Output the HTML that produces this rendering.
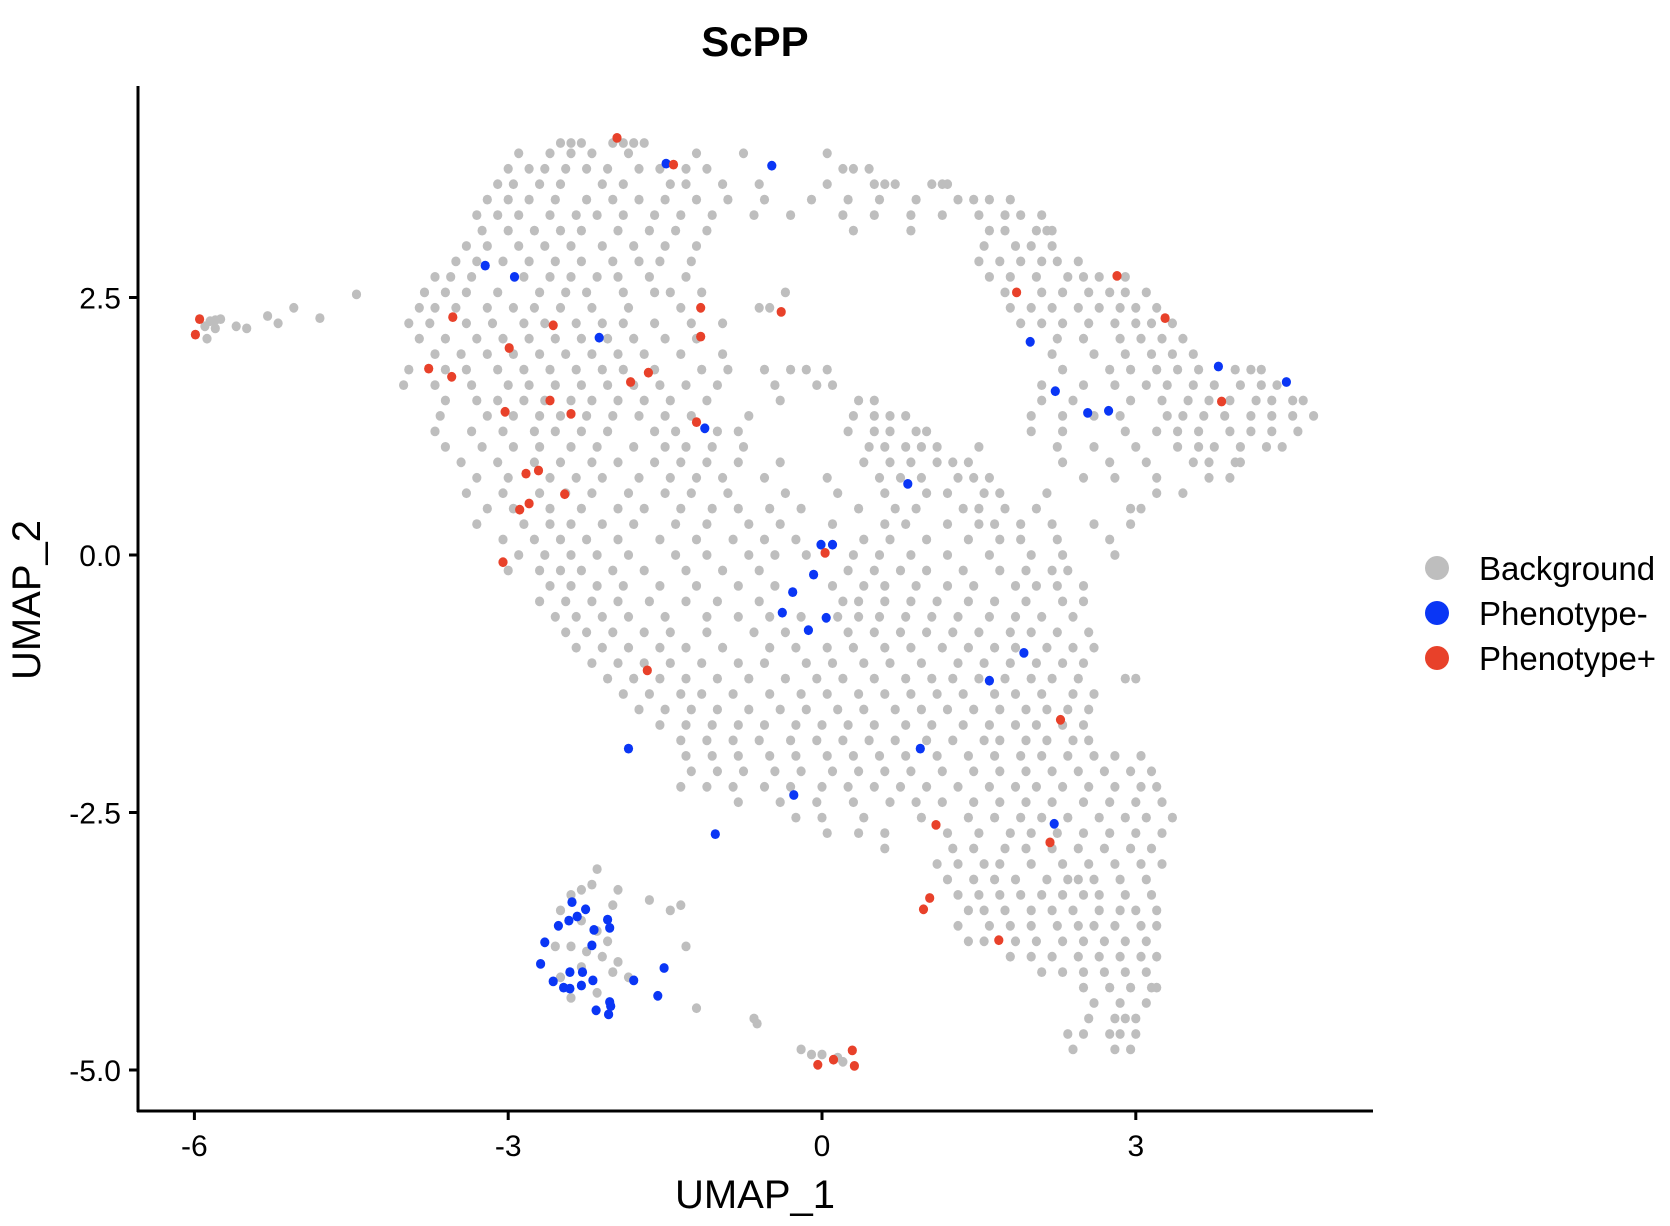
<!DOCTYPE html>
<html><head><meta charset="utf-8"><style>
html,body{margin:0;padding:0;background:#fff}
svg{display:block}
text{font-family:"Liberation Sans",Arial,sans-serif}
</style></head><body>
<svg id="chart" width="1670" height="1226" viewBox="0 0 1670 1226" xmlns="http://www.w3.org/2000/svg">
<text x="755" y="56" font-size="42" font-weight="bold" text-anchor="middle">ScPP</text>
<g id="points"></g>
<g id="axes"></g>
<text x="755" y="1208" font-size="40" text-anchor="middle">UMAP_1</text>
<text transform="translate(40,600) rotate(-90)" font-size="40" text-anchor="middle">UMAP_2</text>
<g>
<circle cx="1437" cy="568" r="12" fill="#bebebe"/>
<text x="1479" y="580" font-size="33">Background</text>
<circle cx="1437" cy="613" r="12" fill="#0a36f5"/>
<text x="1479" y="625" font-size="33">Phenotype-</text>
<circle cx="1437" cy="658" r="12" fill="#e8412a"/>
<text x="1479" y="670" font-size="33">Phenotype+</text>
</g>
</svg>
<script>
const xTicks=[-6,-3,0,3];
const yTicks=[-5,-2.5,0,2.5];
const yTickLabels=["-5.0","-2.5","0.0","2.5"];
const grayRows=[
[4.0,[-2.5,-2.4,-2.3,-2.0,-1.9,-1.8,-1.7]],
[3.9,[-2.9,-2.6,-2.4,-2.2,-1.85,-1.2,-0.75,0.05]],
[3.75,[-3.0,-2.8,-2.65,-2.45,-2.25,-2.05,-1.75,-1.55,-1.3,-1.1,0.2,0.3,0.45]],
[3.6,[-3.1,-2.95,-2.7,-2.5,-2.1,-1.9,-1.45,-1.3,-0.95,-0.6,0.05,0.5,0.6,0.7,1.05,1.15,1.2]],
[3.45,[-3.2,-3.0,-2.8,-2.55,-2.25,-2.0,-1.75,-1.5,-1.2,-0.9,-0.55,-0.1,0.25,0.55,0.9,1.3,1.45,1.6,1.8]],
[3.3,[-3.3,-3.1,-2.9,-2.6,-2.35,-2.15,-1.9,-1.6,-1.35,-1.05,-0.65,-0.3,0.2,0.5,0.85,1.15,1.5,1.75,1.9,2.1]],
[3.15,[-3.25,-3.0,-2.75,-2.5,-2.3,-1.95,-1.65,-1.4,-1.1,0.3,0.85,1.6,1.75,2.05,2.15,2.2]],
[3.0,[-3.4,-3.2,-2.9,-2.65,-2.4,-2.1,-1.8,-1.5,-1.2,1.55,1.85,2.0,2.2]],
[2.85,[-3.5,-3.3,-3.05,-2.8,-2.55,-2.3,-2.0,-1.75,-1.55,-1.25,1.5,1.7,1.9,2.1,2.25,2.45]],
[2.7,[-3.7,-3.55,-3.35,-2.85,-2.6,-2.4,-2.15,-1.95,-1.65,-1.3,1.6,1.8,2.05,2.35,2.5,2.65,2.9]],
[2.55,[-3.8,-3.6,-3.4,-3.1,-2.7,-2.45,-2.25,-1.9,-1.6,-1.45,-1.15,-0.35,1.75,2.1,2.3,2.55,2.75,2.9,3.1]],
[2.4,[-3.85,-3.7,-3.5,-3.2,-2.95,-2.75,-2.5,-2.2,-1.85,-1.35,-0.6,-0.5,1.8,2.0,2.2,2.45,2.65,2.85,3.0,3.2]],
[2.25,[-3.95,-3.75,-3.4,-3.15,-2.85,-2.65,-2.35,-2.1,-1.9,-1.6,-1.25,-0.95,1.9,2.1,2.3,2.55,2.8,3.0,3.15,3.35]],
[2.1,[-3.85,-3.6,-3.3,-3.05,-2.8,-2.55,-2.3,-2.05,-1.8,-1.5,-1.2,2.25,2.5,2.85,3.05,3.25,3.45]],
[1.95,[-3.7,-3.45,-3.2,-2.95,-2.7,-2.45,-2.2,-1.95,-1.7,-1.35,-0.95,2.2,2.6,2.9,3.15,3.35,3.55]],
[1.8,[-3.95,-3.6,-3.4,-3.1,-2.85,-2.6,-2.35,-2.1,-1.9,-1.6,-1.15,-0.9,-0.55,-0.3,-0.15,0.05,2.3,2.75,2.95,3.2,3.4,3.6,3.95,4.1,4.2]],
[1.65,[-4.0,-3.7,-3.35,-3.0,-2.8,-2.55,-2.3,-2.05,-1.8,-1.55,-1.3,-1.0,-0.45,-0.05,0.1,2.1,2.5,2.8,3.1,3.3,3.55,3.75,4.0,4.2,4.35]],
[1.5,[-3.6,-3.3,-3.1,-2.85,-2.65,-2.4,-2.2,-1.95,-1.7,-1.45,-1.1,-0.4,0.35,0.5,2.1,2.4,2.95,3.25,3.5,3.7,3.9,4.15,4.3,4.5,4.6]],
[1.35,[-3.65,-3.2,-2.95,-2.7,-2.5,-2.25,-2.0,-1.75,-1.5,-1.25,-0.7,0.3,0.5,0.65,0.8,2.0,2.3,2.6,2.85,3.3,3.45,3.65,3.85,4.1,4.3,4.5,4.7]],
[1.2,[-3.7,-3.35,-3.05,-2.75,-2.55,-2.3,-2.05,-1.6,-1.4,-1.0,-0.8,0.25,0.5,0.65,0.9,1.0,2.0,2.3,2.9,3.2,3.4,3.6,3.9,4.1,4.3,4.55]],
[1.05,[-3.6,-3.25,-2.95,-2.7,-2.4,-2.15,-1.8,-1.5,-1.3,-1.05,-0.75,0.45,0.6,0.8,0.95,1.1,1.5,2.25,2.6,3.0,3.4,3.6,3.75,4.0,4.25,4.4]],
[0.9,[-3.45,-3.1,-2.75,-2.5,-2.2,-1.95,-1.6,-1.35,-1.1,-0.8,-0.4,0.4,0.65,0.85,1.1,1.25,1.4,2.3,2.75,3.1,3.55,3.7,3.95,4.0]],
[0.75,[-3.3,-3.0,-2.6,-2.35,-2.1,-1.75,-1.45,-1.2,-0.95,-0.55,0.05,0.55,0.75,0.95,1.3,1.45,1.6,2.5,2.8,3.2,3.7,3.9]],
[0.6,[-3.4,-3.05,-2.7,-2.45,-2.2,-1.85,-1.5,-1.25,-0.9,-0.35,0.15,0.6,1.0,1.2,1.55,1.7,2.15,3.2,3.45]],
[0.45,[-3.2,-2.95,-2.6,-2.3,-1.95,-1.7,-1.35,-1.05,-0.8,-0.5,-0.2,0.35,0.7,0.9,1.35,1.5,1.75,2.05,2.95,3.05]],
[0.3,[-3.3,-2.85,-2.6,-2.4,-2.1,-1.8,-1.4,-1.1,-0.7,-0.4,0.1,0.6,0.8,1.2,1.5,1.65,1.9,2.2,2.6,2.95]],
[0.15,[-3.05,-2.75,-2.5,-2.25,-1.95,-1.55,-1.2,-0.85,-0.55,-0.25,0.4,0.65,1.0,1.4,1.7,1.9,2.25,2.75]],
[0.0,[-2.9,-2.65,-2.4,-2.15,-1.85,-1.4,-1.1,-0.7,-0.45,-0.15,0.3,0.55,0.85,1.2,1.6,2.0,2.3,2.8]],
[-0.15,[-3.0,-2.7,-2.5,-2.3,-2.0,-1.7,-1.3,-0.95,-0.6,0.25,0.5,0.75,1.0,1.35,1.7,1.95,2.2,2.35]],
[-0.3,[-2.6,-2.4,-2.15,-1.9,-1.55,-1.2,-0.8,-0.45,0.1,0.4,0.6,0.9,1.2,1.45,1.85,2.05,2.25,2.5]],
[-0.45,[-2.7,-2.45,-2.2,-1.95,-1.65,-1.3,-1.0,-0.6,0.2,0.35,0.6,0.85,1.1,1.4,1.65,1.95,2.3,2.5]],
[-0.6,[-2.55,-2.35,-2.1,-1.85,-1.5,-1.1,-0.8,-0.5,-0.2,0.15,0.35,0.55,0.8,1.05,1.3,1.6,1.85,2.1,2.4]],
[-0.75,[-2.45,-2.25,-2.0,-1.7,-1.45,-1.1,-0.65,-0.35,0.25,0.5,0.75,1.0,1.25,1.5,1.8,2.0,2.25,2.55]],
[-0.9,[-2.35,-2.1,-1.85,-1.55,-1.3,-0.95,-0.5,-0.25,0.05,0.3,0.6,0.85,1.15,1.4,1.65,1.85,2.15,2.4,2.6]],
[-1.05,[-2.2,-1.95,-1.7,-1.45,-1.15,-0.8,-0.55,-0.15,0.1,0.4,0.65,0.95,1.3,1.55,1.8,2.05,2.3,2.5]],
[-1.2,[-2.05,-1.8,-1.55,-1.3,-1.0,-0.7,-0.35,-0.05,0.2,0.5,0.8,1.05,1.25,1.5,1.75,2.0,2.2,2.45,2.9,3.0]],
[-1.35,[-1.9,-1.65,-1.35,-1.15,-0.85,-0.5,-0.2,0.05,0.35,0.6,0.85,1.1,1.35,1.65,1.85,2.1,2.4,2.6]],
[-1.5,[-1.75,-1.5,-1.25,-1.0,-0.7,-0.4,-0.15,0.15,0.4,0.7,0.95,1.2,1.45,1.7,1.95,2.15,2.35,2.55]],
[-1.65,[-1.55,-1.3,-1.05,-0.8,-0.55,-0.25,0.0,0.25,0.5,0.8,1.05,1.35,1.6,1.85,2.05,2.3,2.5]],
[-1.8,[-1.35,-1.1,-0.85,-0.6,-0.3,-0.05,0.2,0.45,0.7,1.0,1.25,1.55,1.7,1.95,2.15,2.4,2.55]],
[-1.95,[-1.3,-1.05,-0.8,-0.5,-0.25,0.05,0.3,0.55,0.8,1.1,1.4,1.65,1.9,2.1,2.35,2.6,2.8,3.05]],
[-2.1,[-1.25,-1.0,-0.75,-0.45,-0.2,0.1,0.35,0.6,0.85,1.15,1.45,1.7,1.95,2.2,2.45,2.7,2.95,3.15]],
[-2.25,[-1.35,-1.1,-0.85,-0.55,-0.3,0.0,0.25,0.5,0.75,1.0,1.3,1.6,1.85,2.05,2.3,2.55,2.8,3.05,3.2]],
[-2.4,[-0.8,-0.4,-0.05,0.3,0.65,0.9,1.15,1.45,1.7,1.95,2.2,2.5,2.75,3.0,3.25]],
[-2.55,[-0.25,0.0,0.4,0.95,1.4,1.65,1.9,2.1,2.35,2.65,2.9,3.1,3.35]],
[-2.7,[0.05,0.35,0.6,1.2,1.5,1.8,2.0,2.25,2.5,2.75,3.0,3.25]],
[-2.85,[0.6,1.25,1.45,1.75,1.95,2.2,2.45,2.7,2.95,3.15]],
[-3.0,[1.1,1.3,1.55,1.7,2.0,2.3,2.55,2.8,3.05,3.25]],
[-3.15,[1.2,1.45,1.65,1.85,2.15,2.35,2.45,2.6,2.85,3.1]],
[-3.3,[1.3,1.5,1.7,1.9,2.1,2.3,2.5,2.65,2.9,3.15]],
[-3.45,[1.4,1.55,1.75,2.0,2.2,2.4,2.65,2.85,3.0,3.2]],
[-3.6,[1.3,1.6,1.8,2.0,2.25,2.45,2.6,2.8,3.05,3.2]],
[-3.75,[1.4,1.55,1.85,2.05,2.3,2.5,2.7,2.9,3.1]],
[-3.9,[1.8,2.0,2.2,2.45,2.65,2.85,3.05,3.2]],
[-4.05,[2.1,2.3,2.5,2.7,2.9,3.1]],
[-4.2,[2.5,2.75,2.95,3.15,3.2]],
[-4.35,[2.6,2.85,3.1]],
[-4.5,[2.55,2.8,2.9,3.0]],
[-4.65,[2.35,2.5,2.75,2.85,3.0]],
[-4.8,[2.4,2.8,2.95]]
];
const grayExtraX=[-5.9,-5.85,-5.8,-5.75,-5.88,-5.8,-5.6,-5.5,-5.3,-5.2,-5.05,-4.8,-4.45,
-2.15,-2.3,-2.4,-2.2,-1.95,-1.65,-1.45,-1.35,-2.0,-2.5,-2.3,-2.15,-2.05,-2.25,-2.4,-2.55,-2.1,-1.95,-2.5,-2.3,-2.0,-1.85,-2.4,-2.15,-1.3,-1.2,
-0.65,-0.62,-0.2,-0.1,0.0,0.15,0.2];
const grayExtraY=[2.22,2.27,2.28,2.29,2.1,2.2,2.22,2.2,2.32,2.25,2.4,2.3,2.53,
-3.05,-3.25,-3.3,-3.2,-3.25,-3.35,-3.45,-3.4,-3.4,-3.45,-3.55,-3.65,-3.75,-3.85,-3.8,-3.8,-3.9,-3.95,-4.1,-4.0,-4.05,-4.1,-4.3,-4.25,-3.8,-4.4,
-4.5,-4.55,-4.8,-4.85,-4.85,-4.88,-4.92];
const plusX=[-5.95,-5.99,-3.53,-3.54,-3.76,-2.99,-3.03,-2.57,-2.60,-2.40,-2.83,-2.71,-2.80,-2.89,-2.46,-3.05,-1.96,-1.42,-1.16,-1.16,-1.20,-1.66,-1.83,-0.39,-1.67,0.03,1.86,2.82,3.28,3.82,2.28,1.09,1.03,0.97,1.69,2.18,0.29,0.11,-0.04,0.31];
const plusY=[2.29,2.14,2.31,1.73,1.81,2.01,1.39,2.23,1.50,1.37,0.79,0.82,0.50,0.44,0.59,-0.07,4.05,3.79,2.40,2.12,1.29,1.77,1.68,2.36,-1.12,0.02,2.55,2.71,2.30,1.49,-1.60,-2.62,-3.33,-3.44,-3.74,-2.79,-4.81,-4.90,-4.95,-4.96];
const minusX=[-3.22,-2.94,-2.13,-1.49,-0.48,-1.12,0.82,-0.01,0.10,-0.08,-0.28,-0.38,0.04,-0.13,1.99,2.23,2.54,2.74,3.79,4.44,1.93,1.60,0.94,-1.85,-0.27,-1.02,2.22,
-2.39,-2.26,-2.34,-2.52,-2.42,-2.05,-2.03,-2.18,-2.65,-2.20,-2.69,-2.57,-2.47,-2.41,-2.29,-2.30,-2.41,-2.19,-1.80,-1.51,-1.57,-2.03,-2.02,-2.16,-2.04];
const minusY=[2.81,2.70,2.11,3.80,3.78,1.23,0.69,0.10,0.10,-0.19,-0.36,-0.56,-0.61,-0.73,2.07,1.59,1.38,1.40,1.83,1.68,-0.95,-1.22,-1.88,-1.88,-2.33,-2.71,-2.61,
-3.37,-3.44,-3.51,-3.60,-3.55,-3.54,-3.62,-3.64,-3.76,-3.79,-3.97,-4.14,-4.20,-4.05,-4.05,-4.18,-4.21,-4.13,-4.13,-4.01,-4.28,-4.34,-4.38,-4.42,-4.46];

const X0=822, XS=104.6, Y0=555, YS=103;
const sx=v=>X0+XS*v, sy=v=>Y0-YS*v;
const NS="http://www.w3.org/2000/svg";
const pts=document.getElementById('points');
function dot(x,y,fill,name){
  const c=document.createElementNS(NS,'ellipse');
  c.setAttribute('cx',sx(x).toFixed(1));c.setAttribute('cy',sy(y).toFixed(1));
  c.setAttribute('rx','4.6');c.setAttribute('ry','4.9');c.setAttribute('fill',fill);
  
  
  pts.appendChild(c);
}
grayRows.forEach(r=>r[1].forEach(x=>dot(x,r[0],'#bebebe','background-point')));
grayExtraX.forEach((x,i)=>dot(x,grayExtraY[i],'#bebebe','background-point'));
minusX.forEach((x,i)=>dot(x,minusY[i],'#0a36f5','phenotype-minus-point'));
plusX.forEach((x,i)=>dot(x,plusY[i],'#e8412a','phenotype-plus-point'));

const ax=document.getElementById('axes');
function el(tag,attrs,name){const e=document.createElementNS(NS,tag);for(const k in attrs)e.setAttribute(k,attrs[k]);
  
  
  ax.appendChild(e);return e;}
el('line',{x1:138,y1:86,x2:138,y2:1112,stroke:'#000','stroke-width':3},'y-axis-line');
el('line',{x1:137,y1:1111,x2:1373,y2:1111,stroke:'#000','stroke-width':3},'x-axis-line');
xTicks.forEach(t=>{
  el('line',{x1:sx(t),y1:1111,x2:sx(t),y2:1120,stroke:'#000','stroke-width':3},'x-tick');
  const tx=el('text',{x:sx(t),y:1156,'font-size':30,'text-anchor':'middle'},'x-tick-label');tx.textContent=String(t);
});
yTicks.forEach((t,i)=>{
  el('line',{x1:129,y1:sy(t),x2:138,y2:sy(t),stroke:'#000','stroke-width':3},'y-tick');
  const tx=el('text',{x:121,y:sy(t)+11,'font-size':30,'text-anchor':'end'},'y-tick-label');tx.textContent=yTickLabels[i];
});
</script>
</body></html>
